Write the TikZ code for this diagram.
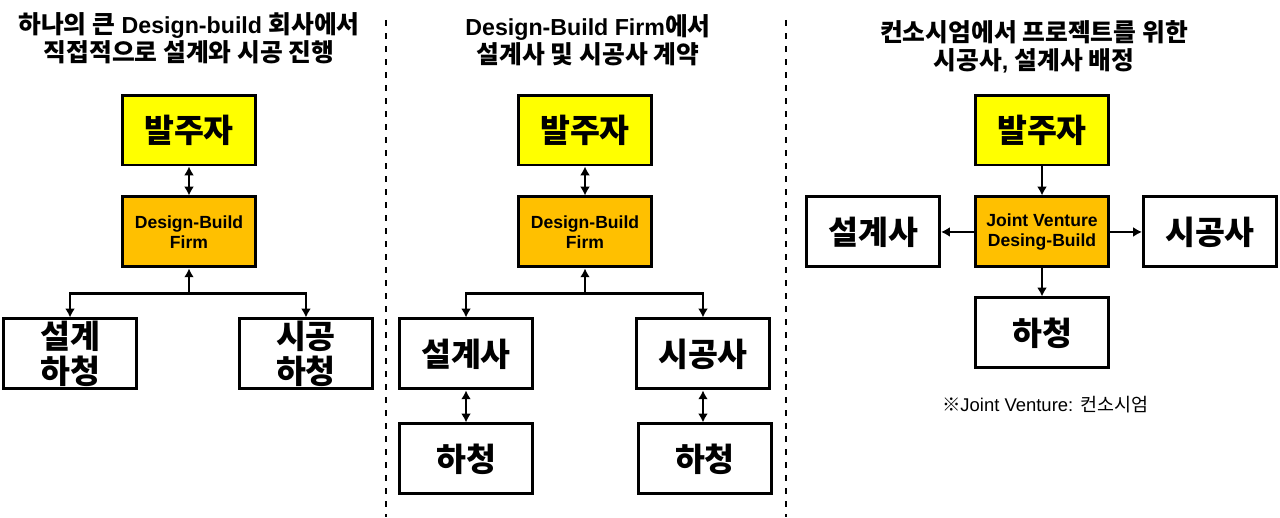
\documentclass[tikz,border=0pt]{standalone}
\usepackage{fontspec}
\setmainfont{Liberation Sans}
\newfontfamily\kr{Noto Sans CJK KR}
\newcommand\hg[1]{{\kr\fontsize{14.1}{16}\selectfont #1}}
\usepackage{tikz}
\usetikzlibrary{shapes,arrows,arrows.meta,calc,positioning}
\definecolor{ownerYellow}{HTML}{FFFF00}
\definecolor{firmOrange}{HTML}{FFC000}
\tikzstyle{line} = [draw, -{Latex[length=5pt,width=5.6pt]}, line width=1.35pt]
\tikzstyle{both} = [draw, {Latex[length=5pt,width=5.6pt]}-{Latex[length=5pt,width=5.6pt]}, line width=1.35pt]
\tikzstyle{block} = [draw, rectangle, line width=1.7pt, text centered, align=center, inner sep=0pt,
  minimum width=2.66cm, minimum height=1.4cm, font=\kr\bfseries\fontsize{18.5}{20}\selectfont]
\tikzstyle{owner} = [block, fill=ownerYellow]
\tikzstyle{firm} = [block, fill=firmOrange, font=\bfseries\fontsize{10}{11.5}\selectfont]
\tikzstyle{title} = [align=center, font=\bfseries\fontsize{13.2}{16}\selectfont]
\tikzstyle{divider} = [draw, line width=0.85pt, dash pattern=on 3.4pt off 4pt]

\begin{document}
\begin{tikzpicture}[x=0.02cm, y=-0.02cm]
        \useasboundingbox (0,0) rectangle (1280,517);
        % dividers
        \path[divider] (386,20) -- (386,517);
        \path[divider] (786,20) -- (786,517);
        % one design-build company
        \node[title] (title1) at (189,38) {\hg{하나의 큰} Design-build \hg{회사에서}\\\hg{직접적으로 설계와 시공 진행}};
        \node[owner] (owner1) at (189,130) {발주자};
        \node[firm, below=0.58cm of owner1] (firm1) {Design-Build\\Firm};
        \node[block, below=0.98cm of firm1, xshift=-2.38cm] (design1) {설계\\하청};
        \node[block, below=0.98cm of firm1, xshift=2.34cm] (build1) {시공\\하청};
        \coordinate[below=0.5cm of firm1.south] (fork1);
        \path[both] (owner1) -- (firm1);
        \path[line] (fork1) -- (firm1);
        \path[line] (fork1) -| (design1);
        \path[line] (fork1) -| (build1);
        % firm contracts designer and builder
        \node[title] (title2) at (588,40) {Design-Build Firm\hg{에서}\\\hg{설계사 및 시공사 계약}};
        \node[owner] (owner2) at (585,130) {발주자};
        \node[firm, below=0.58cm of owner2] (firm2) {Design-Build\\Firm};
        \node[block, below=0.98cm of firm2, xshift=-2.38cm] (design2) {설계사};
        \node[block, below=0.98cm of firm2, xshift=2.36cm] (build2) {시공사};
        \node[block, below=0.64cm of design2] (sub2a) {하청};
        \node[block, below=0.64cm of build2, xshift=0.04cm] (sub2b) {하청};
        \coordinate[below=0.5cm of firm2.south] (fork2);
        \path[both] (owner2) -- (firm2);
        \path[line] (fork2) -- (firm2);
        \path[line] (fork2) -| (design2);
        \path[line] (fork2) -| (build2);
        \path[both] (design2) -- (design2 |- sub2a.north);
        \path[both] (build2) -- (build2 |- sub2b.north);
        % joint venture
        \node[title] (title3) at (1034,47) {\hg{컨소시엄에서 프로젝트를 위한}\\\hg{시공사}, \hg{설계사 배정}};
        \node[owner] (owner3) at (1042,130) {발주자};
        \node[firm, below=0.58cm of owner3] (jv) {Joint Venture\\Desing-Build};
        \node[block, left=0.66cm of jv] (design3) {설계사};
        \node[block, right=0.64cm of jv] (build3) {시공사};
        \node[block, below=0.56cm of jv] (sub3) {하청};
        \node[font=\fontsize{10.5}{12}\selectfont] (note) at (1045,405) {{\kr ※}Joint Venture: {\kr 컨소시엄}};
        \path[line] (owner3) -- (jv);
        \path[line] (jv) -- (design3);
        \path[line] (jv) -- (build3);
        \path[line] (jv) -- (sub3);
    \end{tikzpicture}
\end{document}
